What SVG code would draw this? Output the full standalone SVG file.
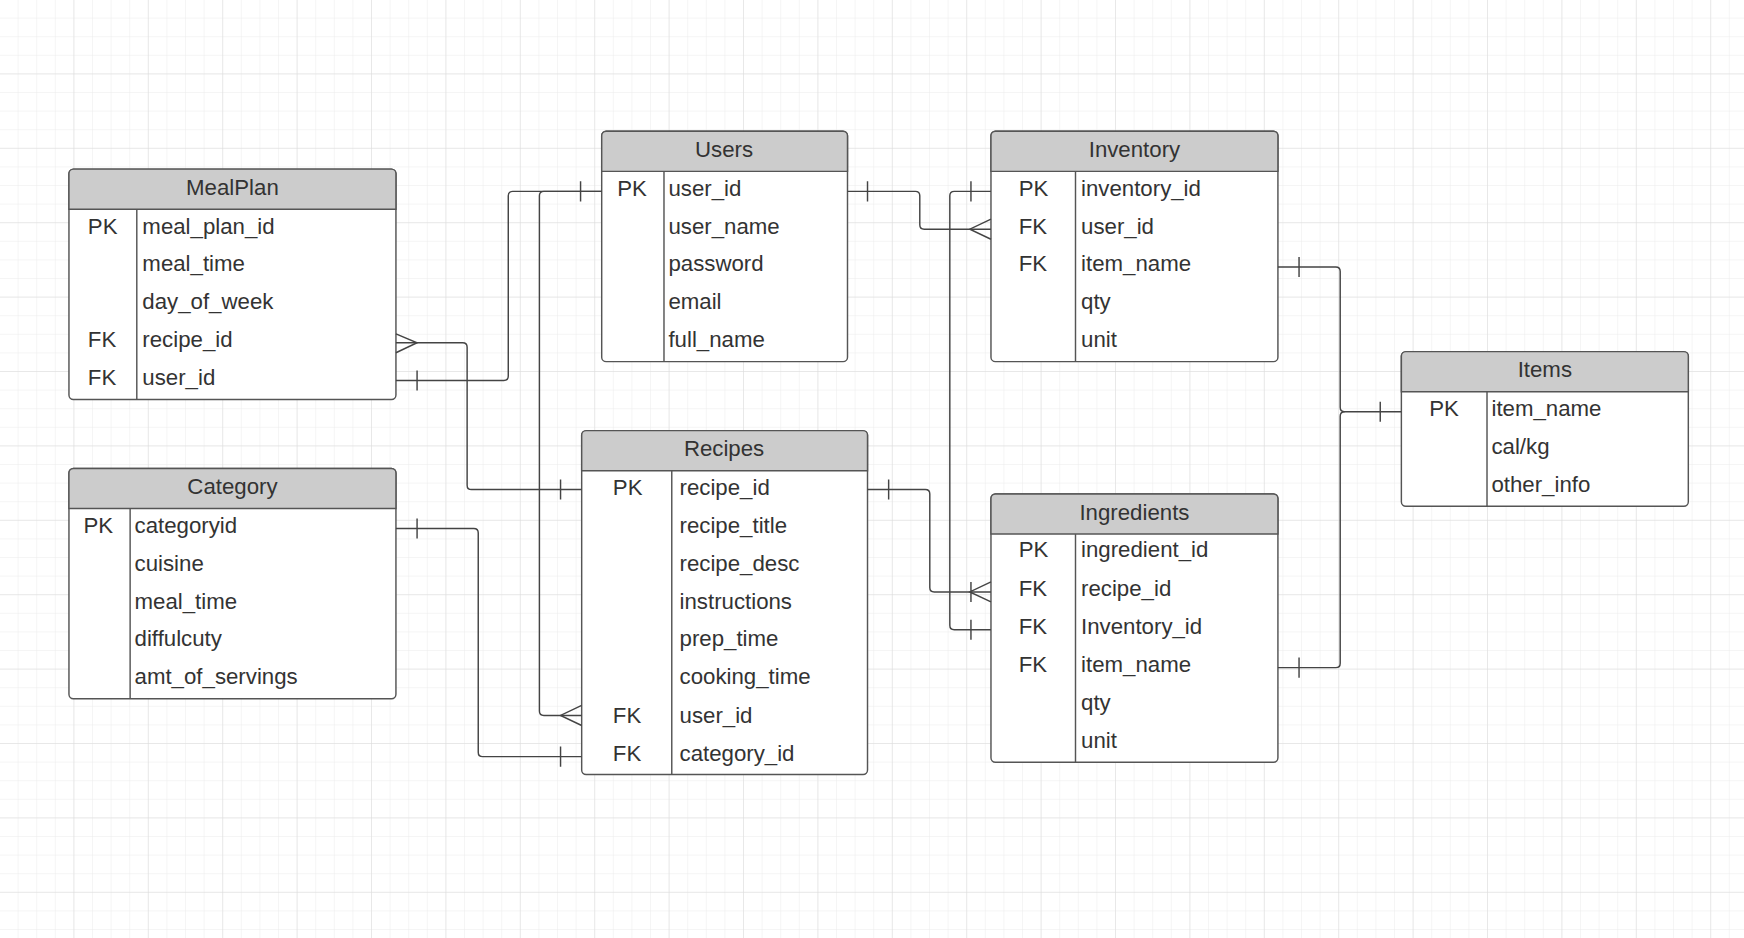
<svg xmlns="http://www.w3.org/2000/svg" width="1744" height="938" viewBox="0 0 1744 938">
<defs>
<pattern id="minor" width="18.6" height="18.6" patternUnits="userSpaceOnUse"><path d="M18.6 0V18.6H0" fill="none" stroke="#ececec" stroke-width="1"/></pattern>
<pattern id="major" width="74.4" height="74.4" patternUnits="userSpaceOnUse"><path d="M74.4 0V74.4H0" fill="none" stroke="#dcdcdc" stroke-width="1"/></pattern>
<style>
.box{fill:#fff;stroke:#555;stroke-width:1.3}
.hd{fill:#cccccc;stroke:#555;stroke-width:1.3}
.dv{stroke:#555;stroke-width:1.3}
text{font-family:"Liberation Sans",Arial,sans-serif;font-size:20px;fill:#333}
.t{text-anchor:middle}
.c{fill:none;stroke:#444;stroke-width:1.3}
</style>
</defs>
<rect width="1744" height="938" fill="#fff"/>
<rect width="1744" height="938" fill="url(#minor)"/>
<rect width="1744" height="938" fill="url(#major)"/>
<g transform="scale(1.1122,1.1127)">
<g id="MealPlan">
<rect class="box" x="62" y="152" width="294" height="207" rx="4"/>
<path class="hd" d="M66 152H352A4 4 0 0 1 356 156V188H62V156A4 4 0 0 1 66 152Z"/>
<line class="dv" x1="123" y1="188" x2="123" y2="359"/>
<text class="t" x="209" y="175">MealPlan</text>
<text x="79" y="210">PK</text><text x="128" y="210">meal_plan_id</text>
<text x="128" y="244">meal_time</text>
<text x="128" y="278">day_of_week</text>
<text x="79" y="312">FK</text><text x="128" y="312">recipe_id</text>
<text x="79" y="346">FK</text><text x="128" y="346">user_id</text>
</g>
<g id="Users">
<rect class="box" x="541" y="118" width="221" height="207" rx="4"/>
<path class="hd" d="M545 118H758A4 4 0 0 1 762 122V154H541V122A4 4 0 0 1 545 118Z"/>
<line class="dv" x1="597" y1="154" x2="597" y2="325"/>
<text class="t" x="651" y="141">Users</text>
<text x="555" y="176">PK</text><text x="601" y="176">user_id</text>
<text x="601" y="210">user_name</text>
<text x="601" y="244">password</text>
<text x="601" y="278">email</text>
<text x="601" y="312">full_name</text>
</g>
<g id="Inventory">
<rect class="box" x="891" y="118" width="258" height="207" rx="4"/>
<path class="hd" d="M895 118H1145A4 4 0 0 1 1149 122V154H891V122A4 4 0 0 1 895 118Z"/>
<line class="dv" x1="967" y1="154" x2="967" y2="325"/>
<text class="t" x="1020" y="141">Inventory</text>
<text x="916" y="176">PK</text><text x="972" y="176">inventory_id</text>
<text x="916" y="210">FK</text><text x="972" y="210">user_id</text>
<text x="916" y="244">FK</text><text x="972" y="244">item_name</text>
<text x="972" y="278">qty</text>
<text x="972" y="312">unit</text>
</g>
<g id="Items">
<rect class="box" x="1260" y="316" width="258" height="139" rx="4"/>
<path class="hd" d="M1264 316H1514A4 4 0 0 1 1518 320V352H1260V320A4 4 0 0 1 1264 316Z"/>
<line class="dv" x1="1337" y1="352" x2="1337" y2="455"/>
<text class="t" x="1389" y="339">Items</text>
<text x="1285" y="374">PK</text><text x="1341" y="374">item_name</text>
<text x="1341" y="408">cal/kg</text>
<text x="1341" y="442">other_info</text>
</g>
<g id="Recipes">
<rect class="box" x="523" y="387" width="257" height="309" rx="4"/>
<path class="hd" d="M527 387H776A4 4 0 0 1 780 391V423H523V391A4 4 0 0 1 527 387Z"/>
<line class="dv" x1="604" y1="423" x2="604" y2="696"/>
<text class="t" x="651" y="410">Recipes</text>
<text x="551" y="445">PK</text><text x="611" y="445">recipe_id</text>
<text x="611" y="479">recipe_title</text>
<text x="611" y="513">recipe_desc</text>
<text x="611" y="547">instructions</text>
<text x="611" y="581">prep_time</text>
<text x="611" y="615">cooking_time</text>
<text x="551" y="650">FK</text><text x="611" y="650">user_id</text>
<text x="551" y="684">FK</text><text x="611" y="684">category_id</text>
</g>
<g id="Category">
<rect class="box" x="62" y="421" width="294" height="207" rx="4"/>
<path class="hd" d="M66 421H352A4 4 0 0 1 356 425V457H62V425A4 4 0 0 1 66 421Z"/>
<line class="dv" x1="117" y1="457" x2="117" y2="628"/>
<text class="t" x="209" y="444">Category</text>
<text x="75" y="479">PK</text><text x="121" y="479">categoryid</text>
<text x="121" y="513">cuisine</text>
<text x="121" y="547">meal_time</text>
<text x="121" y="581">diffulcuty</text>
<text x="121" y="615">amt_of_servings</text>
</g>
<g id="Ingredients">
<rect class="box" x="891" y="444" width="258" height="241" rx="4"/>
<path class="hd" d="M895 444H1145A4 4 0 0 1 1149 448V480H891V448A4 4 0 0 1 895 444Z"/>
<line class="dv" x1="967" y1="480" x2="967" y2="685"/>
<text class="t" x="1020" y="467">Ingredients</text>
<text x="916" y="501">PK</text><text x="972" y="501">ingredient_id</text>
<text x="916" y="536">FK</text><text x="972" y="536">recipe_id</text>
<text x="916" y="570">FK</text><text x="972" y="570">Inventory_id</text>
<text x="916" y="604">FK</text><text x="972" y="604">item_name</text>
<text x="972" y="638">qty</text>
<text x="972" y="672">unit</text>
</g>
<g id="connectors">
<!-- MealPlan.user_id - Users.user_id -->
<path class="c" d="M356 342H453Q457 342 457 338V176Q457 172 461 172H541"/>
<path class="c" d="M375 333V351M522 163V181"/>
<!-- MealPlan.recipe_id - Recipes.recipe_id -->
<path class="c" d="M356 308H416Q420 308 420 312V436Q420 440 424 440H523"/>
<path class="c" d="M356 300L375 308L356 317M504 431V449"/>
<!-- Users.user_id - Recipes.user_id -->
<path class="c" d="M541 172H489Q485 172 485 176V639Q485 643 489 643H523"/>
<path class="c" d="M523 634L504 643L523 652"/>
<!-- Users.user_id - Inventory.user_id -->
<path class="c" d="M762 172H823Q827 172 827 176V202Q827 206 831 206H891"/>
<path class="c" d="M780 163V181M891 197L872 206L891 215"/>
<!-- Inventory.inventory_id - Ingredients.Inventory_id -->
<path class="c" d="M891 172H858Q854 172 854 176V562Q854 566 858 566H891"/>
<path class="c" d="M873 163V181M873 557V575"/>
<!-- Recipes.recipe_id - Ingredients.recipe_id -->
<path class="c" d="M780 440H832Q836 440 836 444V528Q836 532 840 532H891"/>
<path class="c" d="M799 431V449M891 523L872 532L891 541M873 523V541"/>
<!-- Inventory.item_name - Items.item_name -->
<path class="c" d="M1149 240H1201Q1205 240 1205 244V366Q1205 370 1209 370H1260"/>
<path class="c" d="M1168 231V249M1241 361V379"/>
<!-- Ingredients.item_name - Items.item_name -->
<path class="c" d="M1149 600H1201Q1205 600 1205 596V374Q1205 370 1209 370"/>
<path class="c" d="M1168 591V609"/>
<!-- Category.categoryid - Recipes.category_id -->
<path class="c" d="M356 475H426Q430 475 430 479V676Q430 680 434 680H523"/>
<path class="c" d="M375 466V484M504 671V689"/>
</g>
</g>
</svg>
